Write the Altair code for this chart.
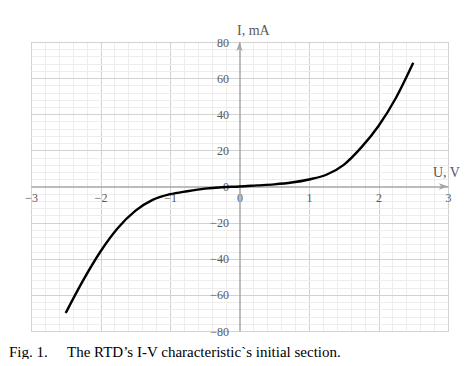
import altair as alt
import pandas as pd

# Data
U = [-2.5, -2.25, -2.0, -1.75, -1.5, -1.25, -1.0, -0.75, -0.5, -0.25, 0.0,
     0.25, 0.5, 0.75, 1.0, 1.25, 1.5, 1.75, 2.0, 2.25, 2.5]
I = [-70, -52, -36, -23, -13.5, -7.4, -4.3, -2.6, -1.2, -0.4, 0.0,
     0.6, 1.2, 2.2, 3.9, 6.5, 12, 21.5, 33.5, 49, 68.5]

x_labels = [-3, -2, -1, 0, 1, 2, 3]
y_labels = [-80, -60, -40, -20, 0, 20, 40, 60, 80]
x_grid = [round(-3 + 0.2 * k, 1) for k in range(31)]
y_grid = [-80 + 4 * k for k in range(41)]
x_grid = [v for v in x_grid if v != 0]
y_grid = [v for v in y_grid if v != 0]

y_title = "I, mA"
x_title = "U, V"
caption_fig = "Fig. 1."
caption_text = "The RTD\u2019s I-V characteristic`s initial section."

W, H = 417, 289
FONT = "Liberation Serif"
GRAY = "#595959"
AXIS_GRAY = "#a6a6a6"

df = pd.DataFrame({"U": U, "I": I})
xs = alt.Scale(domain=[-3, 3], nice=False, zero=False)
ys = alt.Scale(domain=[-80, 80], nice=False, zero=False)

grid_x_axis = alt.Axis(
    orient="bottom", values=x_grid, grid=True, labels=False, ticks=False,
    domain=False, title=None,
    gridColor={"condition": {"test": "abs(datum.value - round(datum.value)) < 0.001",
                             "value": "#d2d2d2"}, "value": "#ededed"},
    gridWidth=1,
)
grid_y_axis = alt.Axis(
    orient="left", values=y_grid, grid=True, labels=False, ticks=False,
    domain=False, title=None,
    gridColor={"condition": {"test": "abs(datum.value % 20) < 0.001",
                             "value": "#d2d2d2"}, "value": "#ededed"},
    gridWidth=1,
)

center_x_axis = alt.Axis(
    orient="bottom", offset=-H / 2, values=x_labels, grid=False, ticks=False,
    domainColor=AXIS_GRAY, domainWidth=1.5, labelFont=FONT, labelFontSize=12,
    labelColor=GRAY, labelPadding=6, labelFlush=False, labelOverlap=False,
    title=None,
)
center_y_axis = alt.Axis(
    orient="left", offset=-W / 2, values=y_labels, grid=False, ticks=False,
    domainColor=AXIS_GRAY, domainWidth=1.5, labelFont=FONT, labelFontSize=12,
    labelColor=GRAY, labelPadding=11, labelFlush=False, labelOverlap=False,
    title=None,
)

grid = alt.Chart(df).mark_line(opacity=0).encode(
    x=alt.X("U:Q", scale=xs, axis=grid_x_axis),
    y=alt.Y("I:Q", scale=ys, axis=grid_y_axis),
)

curve = alt.Chart(df).mark_line(
    color="black", strokeWidth=2.4, interpolate="monotone"
).encode(
    x=alt.X("U:Q", scale=xs, axis=center_x_axis),
    y=alt.Y("I:Q", scale=ys, axis=center_y_axis),
)

arrow_up = alt.Chart(pd.DataFrame({"U": [0], "I": [80]})).mark_point(
    shape="M0,-1L0.6,0.8L0,0.35L-0.6,0.8Z", size=110, filled=True,
    color=AXIS_GRAY, opacity=1, yOffset=5,
).encode(x=alt.X("U:Q", scale=xs, axis=None), y=alt.Y("I:Q", scale=ys, axis=None))

arrow_right = alt.Chart(pd.DataFrame({"U": [3], "I": [0]})).mark_point(
    shape="M1,0L-0.8,0.6L-0.35,0L-0.8,-0.6Z", size=110, filled=True,
    color=AXIS_GRAY, opacity=1, xOffset=-5,
).encode(x=alt.X("U:Q", scale=xs, axis=None), y=alt.Y("I:Q", scale=ys, axis=None))

text_base = alt.Chart(pd.DataFrame({"t": [0]}))

t_y = text_base.mark_text(text=y_title, font=FONT, fontSize=14, color=GRAY,
                          align="left", baseline="alphabetic").encode(
    x=alt.value(206), y=alt.value(-7))
t_x = text_base.mark_text(text=x_title, font=FONT, fontSize=14, color=GRAY,
                          align="left", baseline="alphabetic").encode(
    x=alt.value(402), y=alt.value(135))
t_fig = text_base.mark_text(text=caption_fig, font=FONT, fontSize=15, color="black",
                            align="left", baseline="alphabetic").encode(
    x=alt.value(-22), y=alt.value(315))
t_cap = text_base.mark_text(text=caption_text, font=FONT, fontSize=15, color="black",
                            align="left", baseline="alphabetic").encode(
    x=alt.value(36), y=alt.value(315))

chart = alt.layer(
    grid, curve, arrow_up, arrow_right, t_y, t_x, t_fig, t_cap
).resolve_axis(
    x="independent", y="independent"
).properties(
    width=W, height=H,
    autosize=alt.AutoSizeParams(type="none"),
    padding={"left": 23, "top": 34, "right": 16, "bottom": 28},
).configure_axis(
    labelFont=FONT, labelFontSize=12, labelColor=GRAY
).configure_view(
    stroke="#d6d6d6", strokeWidth=1
)

chart.save("out.html", embed_options={"renderer": "svg", "actions": False})
